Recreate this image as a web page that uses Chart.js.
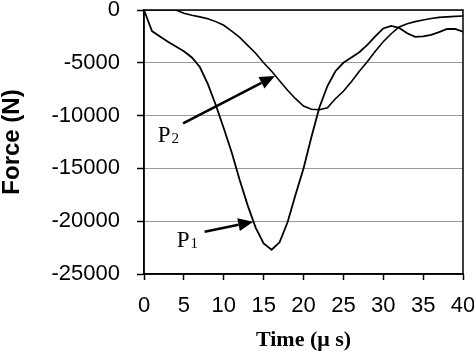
<!DOCTYPE html>
<html>
<head>
<meta charset="utf-8">
<script src="https://cdn.jsdelivr.net/npm/chart.js@4.4.1/dist/chart.umd.min.js"></script>
<style>
html,body{margin:0;padding:0;background:#fff;}
canvas{display:block;}
</style>
</head>
<body>
<canvas id="c" width="474" height="351"></canvas>
<script>
// ---- data ----
const time = [0,1,2,3,4,5,6,7,8,9,10,11,12,13,14,15,16,17,18,19,20,21,22,23,24,25,26,27,28,29,30,31,32,33,34,35,36,37,38,39,40];
const p1Force = [0,-2000,-2500,-3000,-3450,-3900,-4500,-5400,-7000,-9000,-11200,-13500,-16100,-18500,-20600,-22100,-22700,-22000,-20100,-17500,-15000,-12000,-9200,-7200,-5800,-5000,-4500,-4000,-3300,-2500,-1750,-1500,-1700,-2200,-2550,-2500,-2350,-2100,-1800,-1800,-2050];
const p2Force = [0,0,0,0,0,-300,-500,-650,-820,-1100,-1450,-2000,-2600,-3350,-4100,-5000,-5800,-6700,-7600,-8400,-9100,-9400,-9450,-9250,-8400,-7700,-6800,-5800,-4900,-3900,-3000,-2250,-1600,-1300,-1100,-950,-800,-700,-650,-600,-570];
const xTicks = [0,5,10,15,20,25,30,35,40];
const yTicks = [-25000,-20000,-15000,-10000,-5000,0];
const seriesNames = ['P1','P2'];

const sans = "'Liberation Sans', Arial, sans-serif";
const serif = "'Liberation Serif', 'Times New Roman', serif";

const framePlugin = {
  id: 'frame',
  afterDatasetsDraw(chart) {
    const {ctx, chartArea: a} = chart;
    ctx.save();
    ctx.strokeStyle = '#000';
    ctx.lineWidth = 1.5;
    ctx.strokeRect(a.left, a.top, a.right - a.left, a.bottom - a.top);
    ctx.restore();
  }
};

// annotation arrows + labels, positioned in data units
const annotations = [
  {main: 'P', sub: '1', text: [4.1, -22440], from: [7.6, -20990], to: [13.7, -20050]},
  {main: 'P', sub: '2', text: [1.72, -12500], from: [4.9, -10730], to: [16.4, -6240]}
];
const annotPlugin = {
  id: 'annot',
  afterDatasetsDraw(chart) {
    const {ctx} = chart;
    const xs = chart.scales.x, ys = chart.scales.y;
    ctx.save();
    annotations.forEach(a => {
      const x1 = xs.getPixelForValue(a.from[0]), y1 = ys.getPixelForValue(a.from[1]);
      const x2 = xs.getPixelForValue(a.to[0]), y2 = ys.getPixelForValue(a.to[1]);
      const ang = Math.atan2(y2 - y1, x2 - x1);
      const hl = 15, hw = 6.5;
      const bx = x2 - hl * Math.cos(ang), by = y2 - hl * Math.sin(ang);
      ctx.strokeStyle = '#000';
      ctx.fillStyle = '#000';
      ctx.lineWidth = 2.6;
      ctx.beginPath();
      ctx.moveTo(x1, y1);
      ctx.lineTo(bx, by);
      ctx.stroke();
      ctx.beginPath();
      ctx.moveTo(x2, y2);
      ctx.lineTo(bx + hw * Math.sin(ang), by - hw * Math.cos(ang));
      ctx.lineTo(bx - hw * Math.sin(ang), by + hw * Math.cos(ang));
      ctx.closePath();
      ctx.fill();
      const tx = xs.getPixelForValue(a.text[0]), ty = ys.getPixelForValue(a.text[1]);
      ctx.textBaseline = 'alphabetic';
      ctx.textAlign = 'left';
      ctx.font = '23px ' + serif;
      ctx.fillText(a.main, tx, ty);
      const w = ctx.measureText(a.main).width;
      ctx.font = '15px ' + serif;
      ctx.fillText(a.sub, tx + w + 1, ty + 1);
    });
    ctx.restore();
  }
};

new Chart(document.getElementById('c'), {
  type: 'line',
  data: {
    datasets: [
      {label: seriesNames[0], data: time.map((t, i) => ({x: t, y: p1Force[i]})), borderColor: '#000', borderWidth: 1.8, pointRadius: 0, tension: 0, fill: false},
      {label: seriesNames[1], data: time.map((t, i) => ({x: t, y: p2Force[i]})), borderColor: '#000', borderWidth: 1.6, pointRadius: 0, tension: 0, fill: false}
    ]
  },
  options: {
    responsive: false,
    animation: false,
    devicePixelRatio: 1,
    layout: {padding: {top: 10, right: 11, left: 0, bottom: 0}},
    plugins: {legend: {display: false}, tooltip: {enabled: false}},
    scales: {
      x: {
        type: 'linear', min: 0, max: 40,
        afterBuildTicks(s) { s.ticks = xTicks.map(v => ({value: v})); },
        afterFit(s) { s.height = 77; s.paddingLeft = 0; s.paddingRight = 0; },
        ticks: {color: '#000', font: {family: sans, size: 22}, padding: 13, maxRotation: 0, autoSkip: false},
        grid: {drawOnChartArea: false, drawTicks: true, tickLength: 6, tickColor: '#000', tickWidth: 1.5},
        border: {color: '#000', width: 1.5},
        title: {display: true, text: 'Time (μ s)', color: '#000', font: {family: serif, size: 22, weight: 'bold', lineHeight: 1.0}, padding: {top: 0, bottom: 0}}
      },
      y: {
        type: 'linear', min: -25000, max: 0,
        afterBuildTicks(s) { s.ticks = yTicks.map(v => ({value: v})); },
        afterFit(s) { s.width = 144; s.paddingTop = 0; s.paddingBottom = 0; },
        ticks: {color: '#000', font: {family: sans, size: 22}, padding: 17, callback: v => String(v)},
        grid: {color: '#9a9a9a', lineWidth: 1, tickLength: 7, tickColor: '#000', tickWidth: 1.5},
        border: {color: '#000', width: 1.5},
        title: {display: true, text: 'Force (N)', color: '#000', font: {family: sans, size: 24, weight: 'bold', lineHeight: 1.0}, padding: {top: 0, bottom: 0}}
      }
    }
  },
  plugins: [framePlugin, annotPlugin]
});
</script>
</body>
</html>
